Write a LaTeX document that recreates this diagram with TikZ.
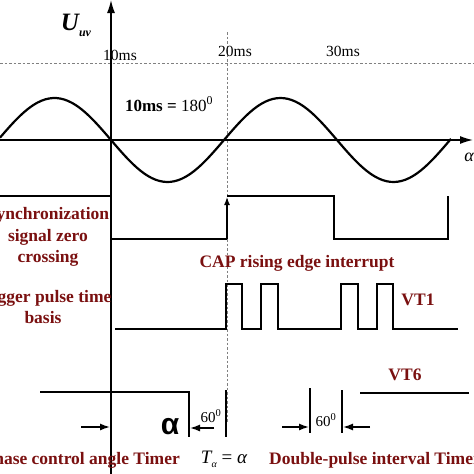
\documentclass[tikz,border=0pt]{standalone}
\usepackage{fontspec}
\setmainfont{Liberation Serif}
\newfontfamily\alphafont{Liberation Sans}
\usetikzlibrary{arrows.meta}
\definecolor{labelred}{RGB}{122,16,16}
\tikzset{wave/.style={line width=1.4pt},
	guide/.style={gray, line width=.8pt, dash pattern=on 2.5pt off 2pt},
	axisarrow/.style={-{Latex[length=13pt, width=8pt]}, line width=1.4pt},
	dimarrow/.style={-{Latex[length=10pt, width=7pt]}, line width=1.4pt},
	redlabel/.style={text=labelred, font=\fontsize{17.5}{21.5}\selectfont\bfseries, align=center, inner sep=0pt},
	mslabel/.style={font=\fontsize{15.5}{16}\selectfont, inner sep=0pt}}

\begin{document}
\begin{tikzpicture}[x=1pt, y=-1pt]
	\useasboundingbox (0,0) rectangle (474,474);
	\clip (0,0) rectangle (474,474);
	
	\draw [guide] (0,63) -- (474,63);
	\draw [guide] (227,32) -- (227,423);
	
	\draw [axisarrow] (0,140) -- (473,140);
	\draw [axisarrow] (111,474) -- (111,0);
	
	\draw [line width=2.2pt] plot [domain=0:451, samples=120, smooth] (\x, {140-42*sin((111-\x)/113*180)});
	
	\node (uv) at (76,25) {\fontsize{25}{25}\selectfont\bfseries\itshape U\raisebox{-6pt}{\fontsize{12}{12}\selectfont uv}};
	\node [mslabel] (t10) at (120,55) {10ms};
	\node [mslabel] (t20) at (235,51) {20ms};
	\node [mslabel] (t30) at (343,51) {30ms};
	\node [inner sep=0pt] (deg) at (169,104) {\fontsize{17}{17}\selectfont\textbf{10ms = }180\textsuperscript{0}};
	\node [inner sep=0pt] (axis) at (469,157) {\fontsize{18}{18}\selectfont\itshape α};
	
	% synchronization signal
	\draw [wave] (0,196) -- (111,196) -- (111,239) -- (227,239);
	\draw [wave, -{Latex[length=8pt, width=6pt]}] (227,239) -- (227,197);
	\draw [wave] (227,196) -- (334,196) -- (334,239) -- (448,239) -- (448,196);
	\node [redlabel] (sync) at (48,237) {Synchronization\\signal zero\\crossing};
	\node [redlabel] (cap) at (297,263) {CAP rising edge interrupt};
	
	% trigger pulses
	\draw [wave] (115,329) -- (226,329) -- (226,284) -- (242,284) -- (242,329) -- (261,329) -- (261,284) -- (278,284) -- (278,329)
		-- (341,329) -- (341,284) -- (358,284) -- (358,329) -- (377,329) -- (377,284) -- (393,284) -- (393,329) -- (458,329);
	\node [redlabel] (trig) at (43,307) {Trigger pulse time\\basis};
	\node [redlabel] (vt1) at (418,300) {VT1};
	
	% timers
	\draw [wave] (40,392) -- (189,392) -- (189,437);
	\draw [wave] (226,390) -- (226,437);
	\draw [dimarrow] (81,427) -- (110,427);
	\draw [dimarrow] (214,428) -- (190,428);
	\node (alpha) at (170,427) {\fontsize{30}{30}\selectfont\alphafont\bfseries α};
	\node [inner sep=0pt] (sixtyA) at (211,416) {\fontsize{15}{15}\selectfont 60\textsuperscript{0}};
	
	\draw [wave] (310,388) -- (310,433);
	\draw [wave] (342,390) -- (342,433);
	\draw [dimarrow] (282,427) -- (309,427);
	\draw [dimarrow] (370,427) -- (343,427);
	\node [inner sep=0pt] (sixtyB) at (326,420) {\fontsize{15}{15}\selectfont 60\textsuperscript{0}};
	
	\draw [wave] (360,393) -- (469,393);
	\node [redlabel] (vt6) at (405,375) {VT6};
	
	\node [redlabel, anchor=east] (timerA) at (180,460) {Phase control angle Timer};
	\node [inner sep=0pt] (talpha) at (224,459) {\fontsize{19}{19}\selectfont\itshape T\raisebox{-4pt}{\fontsize{10}{10}\selectfont α}\upshape{} = \itshape α};
	\node [redlabel, anchor=west] (timerB) at (269,460) {Double-pulse interval Timer};
	
\end{tikzpicture}
\end{document}
